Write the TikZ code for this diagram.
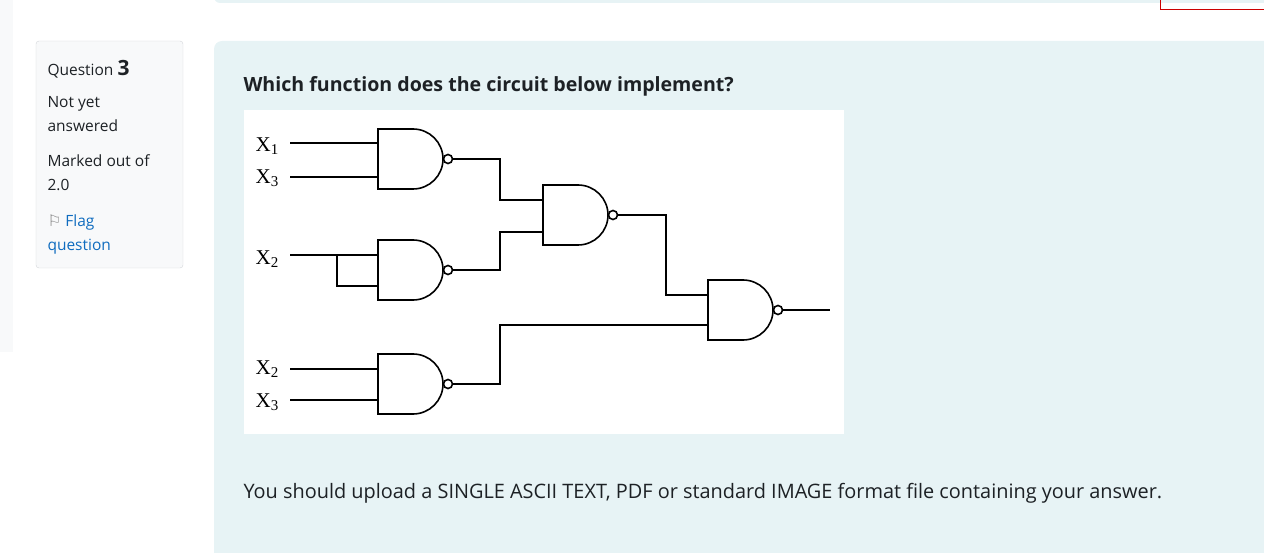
\documentclass[tikz,border=0pt]{standalone}
\usepackage{fontspec}
\setmainfont{Open Sans}
\newfontfamily\serifX{Liberation Serif}
\definecolor{panel}{HTML}{E7F3F5}
\definecolor{cardbg}{HTML}{F8F9FA}
\definecolor{cardbd}{HTML}{D3D6DA}
\definecolor{txt}{HTML}{1D2125}
\definecolor{lnk}{HTML}{0F6CBF}
\newcommand{\xs}[1]{X\raisebox{-0.3ex}{\fontsize{15}{16}\selectfont #1}}
\begin{document}
\begin{tikzpicture}[x=1pt,y=-1pt,
  wire/.style={line width=1.6pt},
  lbl/.style={font=\serifX\fontsize{21}{22}\selectfont,anchor=center},
  side/.style={font=\fontsize{15.5}{18}\selectfont,text=txt,anchor=base west}]
\useasboundingbox (0,0) rectangle (1264,553);
\fill[cardbg] (0,0) rectangle (13,352);
\fill[panel,rounded corners=6pt] (214,-10) rectangle (1274,3);
\draw[red!80!black] (1160,-5) rectangle (1270,9);
\filldraw[fill=cardbg,draw=cardbd,rounded corners=3pt] (36,41) rectangle (183,268);
\fill[panel,rounded corners=8pt] (214,41) rectangle (1280,560);
\fill[white] (244,110) rectangle (844,434);
\node[side] (q) at (44,76) {Question \textbf{\fontsize{21}{22}\selectfont 3}};
\node[side] (n1) at (44,108) {Not yet};
\node[side] (n2) at (44,132) {answered};
\node[side] (m1) at (44,167) {Marked out of};
\node[side] (m2) at (44,191) {2.0};
\node[side,text=lnk] (f1) at (44,227) {{\color{gray}\fontspec{DejaVu Sans}\char"2690}\ Flag};
\node[side,text=lnk] (f2) at (44,251) {question};
\node[anchor=base west,font=\bfseries\fontsize{19.6}{22}\selectfont,text=txt] (title) at (240,92) {Which function does the circuit below implement?};
\node[anchor=base west,font=\fontsize{19.9}{22}\selectfont,text=txt] (bot) at (240,498) {You should upload a SINGLE ASCII TEXT, PDF or standard IMAGE format file containing your answer.};
% gates
\def\gate#1#2#3{%
 \draw[wire,fill=white] (#2,#3) -- ++(35,0) arc[start angle=-90,end angle=90,radius=30] -- ++(-35,0) -- cycle;
 \draw[wire,fill=white] (#2+70,#3+30) circle (4.5);
 \coordinate (#1o) at (#2+74.5,#3+30);}
\gate{g1}{378}{129}
\gate{g2}{378}{240}
\gate{g3}{543}{185}
\gate{g4}{708}{280}
\gate{g5}{378}{354}
\node[lbl] (x1) at (267,146) {\xs{1}};
\node[lbl] (x3) at (267,178) {\xs{3}};
\node[lbl] (x2) at (267,259) {\xs{2}};
\node[lbl] (x2b) at (267,369) {\xs{2}};
\node[lbl] (x3b) at (267,402) {\xs{3}};
\draw[wire] (290,143) -- (378,143);
\draw[wire] (290,177) -- (378,177);
\draw[wire] (290,255) -- (378,255);
\draw[wire] (337,255) -- (337,286) -- (378,286);
\draw[wire] (290,369) -- (378,369);
\draw[wire] (290,400) -- (378,400);
\draw[wire] (g1o) -- (500,159) -- (500,200) -- (543,200);
\draw[wire] (g2o) -- (500,270) -- (500,232) -- (543,232);
\draw[wire] (g3o) -- (666,215) -- (666,295) -- (708,295);
\draw[wire] (g5o) -- (500,384) -- (500,325) -- (708,325);
\draw[wire] (g4o) -- (830,310);
\end{tikzpicture}
\end{document}
